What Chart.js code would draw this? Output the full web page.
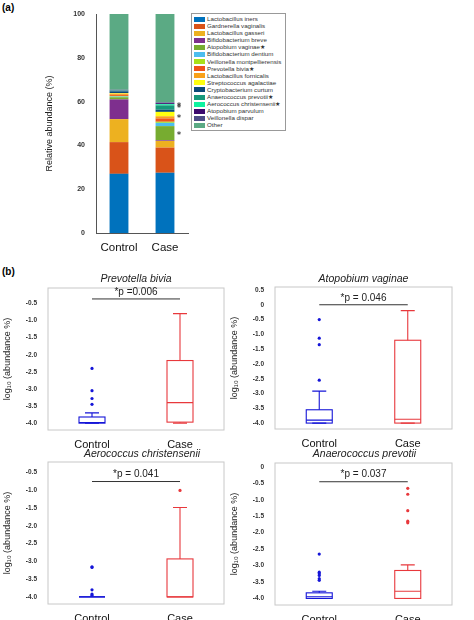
<!DOCTYPE html><html><head><meta charset="utf-8">
<script src="https://cdn.jsdelivr.net/npm/chart.js@4"></script>
<style>
body{margin:0;width:474px;height:620px;background:#fff;font-family:Arial,"Liberation Sans",sans-serif;position:relative;overflow:hidden}
.c{position:absolute}
.t{position:absolute;font-style:italic;font-size:10.5px;text-align:center;color:#222}
.lab{position:absolute;font-weight:bold;font-size:10px}
#leg{position:absolute;left:191px;top:13px;width:91px;border:1px solid #999;padding:1px 0 1px 2px;font-size:6.2px;line-height:7.1px;color:#333}
#leg span{display:inline-block;width:11px;height:5px;margin-right:2px;vertical-align:-0.5px}
</style></head><body>
<div class="lab" style="left:2px;top:2px">(a)</div>
<div class="lab" style="left:2px;top:266px">(b)</div>
<div class="c" style="left:40px;top:4px;width:150px;height:252px"><canvas id="a"></canvas></div>
<div id="leg"></div>
<div class="c" style="left:0;top:270px;width:228px;height:190px"><canvas id="b1"></canvas></div>
<div class="c" style="left:227px;top:270px;width:229px;height:190px"><canvas id="b2"></canvas></div>
<div class="c" style="left:0;top:444px;width:228px;height:176px"><canvas id="b3"></canvas></div>
<div class="c" style="left:227px;top:445px;width:229px;height:175px"><canvas id="b4"></canvas></div>
<div class="t" style="left:48px;top:272px;width:176px">Prevotella bivia</div>
<div class="t" style="left:275px;top:272px;width:177px">Atopobium vaginae</div>
<div class="t" style="left:48px;top:447px;width:188px">Aerococcus christensenii</div>
<div class="t" style="left:277px;top:447px;width:175px">Anaerococcus prevotii</div>
<script>
const groups=['Control','Case'];
const taxa=['Lactobacillus iners','Gardnerella vaginalis','Lactobacillus gasseri','Bifidobacterium breve','Atopobium vaginae★','Bifidobacterium dentium','Veillonella montpellierensis','Prevotella bivia★','Lactobacillus fornicalis','Streptococcus agalactiae','Cryptobacterium curtum','Anaerococcus prevotii★','Aerococcus christensenii★','Atopobium parvulum','Veillonella dispar','Other'];
const colors=['#0072BD','#D95319','#EDB120','#7E2F8E','#77AC30','#4DBEEE','#A8E01A','#F0521A','#F9A11B','#FFFF10','#0B4A78','#17997A','#10F2A0','#3D0A6E','#4E4C86','#5BAA84'];
const controlVals=[27,14.5,10.5,9,1,0.3,0.3,0.5,0.5,0.3,0.8,0.2,0.1,0.2,0.2,34.6];
const caseVals=[27.5,11.5,3,0.3,6.5,1.5,0.5,1.5,1,2,1,2,0.5,0.5,0.3,40.4];
const starYs=[58.5,57.5,53,45.5];

document.getElementById('leg').innerHTML=taxa.map((t,i)=>`<div><span style="background:${colors[i]}"></span>${t}</div>`).join('');

const starPlugin={id:'stars',afterDatasetsDraw(ch){const y=ch.scales.y,x=ch.scales.x,c=ch.ctx;c.save();c.fillStyle='#000';c.font='9px DejaVu Sans';c.textAlign='center';c.textBaseline='middle';starYs.forEach(v=>c.fillText('*',x.getPixelForValue(1)+14,y.getPixelForValue(v)+2));c.restore();}};
new Chart(document.getElementById('a'),{type:'bar',
data:{labels:groups,datasets:taxa.map((t,i)=>({label:t,data:[controlVals[i],caseVals[i]],backgroundColor:colors[i],barPercentage:0.82,categoryPercentage:0.5}))},
options:{animation:false,responsive:true,maintainAspectRatio:false,layout:{padding:{top:10,right:2}},
plugins:{legend:{display:false},tooltip:{enabled:false}},
scales:{x:{stacked:true,grid:{display:false},border:{color:'#555'},ticks:{color:'#111',font:{size:11.5},padding:0},afterFit(s){s.height=23}},
y:{stacked:true,min:0,max:100,ticks:{stepSize:20,color:'#333',font:{size:7,weight:'bold'}},grid:{display:false},border:{color:'#555'},
title:{display:true,text:'Relative abundance (%)',color:'#222',font:{size:9}},afterFit(s){s.width=56}}}},plugins:[starPlugin]});

// box plot data: [whiskerLow, q1, median, q3, whiskerHigh]
const pbBox=[[-4,-4,-3.98,-3.82,-3.7],[-4,-3.97,-3.4,-2.17,-0.8]];
const pbOut=[[-2.4,-3.05,-3.28,-3.45],[]];
const avBox=[[-4,-4,-3.9,-3.55,-2.92],[-4,-4,-3.87,-1.2,-0.2]];
const avOut=[[-0.5,-1.13,-1.35,-2.55],[]];
const acBox=[[-4,-4,-4,-4,-4],[-4,-4,-4,-2.93,-1.48]];
const acOut=[[-3.15,-3.17,-3.8,-3.92,-3.95],[-1.0]];
const apBox=[[-4,-4,-3.95,-3.83,-3.78],[-4,-4,-3.78,-3.15,-2.98]];
const apOut=[[-2.65,-3.2,-3.25,-3.3,-3.4,-3.45],[-0.65,-0.83,-1.33,-1.65,-1.7]];
const pvals=['*p =0.006','*p = 0.046','*p = 0.041','*p = 0.037'];
const pLineY=[-0.37,0.0,-0.75,-0.45];
const yRange=[[-4.2,-0.05],[-4.2,0.6],[-4.2,-0.2],[-4.2,0.12]];
const yTicks=[[-4,-3.5,-3,-2.5,-2,-1.5,-1,-0.5],[-4,-3.5,-3,-2.5,-2,-1.5,-1,-0.5,0,0.5],[-4,-3.5,-3,-2.5,-2,-1.5,-1,-0.5],[-4,-3.5,-3,-2.5,-2,-1.5,-1,-0.5,0]];
const boxCol=['#1515d8','#e8383c'];

function boxChart(id,box,out,k,padTop,xh){
 const plug={id:'bx',afterDatasetsDraw(ch){const c=ch.ctx,x=ch.scales.x,y=ch.scales.y,a=ch.chartArea;c.save();
  c.strokeStyle='#c8c8c8';c.lineWidth=1;c.strokeRect(a.left,a.top,a.right-a.left,a.bottom-a.top);
  box.forEach((b,i)=>{const cx=x.getPixelForValue(i+1),hw=13,cw=7;c.strokeStyle=boxCol[i];c.lineWidth=1.1;
   const P=v=>y.getPixelForValue(v);
   c.strokeRect(cx-hw,P(b[3]),2*hw,P(b[1])-P(b[3]));
   c.beginPath();c.moveTo(cx-hw,P(b[2]));c.lineTo(cx+hw,P(b[2]));
   c.moveTo(cx,P(b[3]));c.lineTo(cx,P(b[4]));c.moveTo(cx-cw,P(b[4]));c.lineTo(cx+cw,P(b[4]));
   c.moveTo(cx,P(b[1]));c.lineTo(cx,P(b[0]));c.moveTo(cx-cw,P(b[0]));c.lineTo(cx+cw,P(b[0]));c.stroke();});
  const yl=y.getPixelForValue(pLineY[k]);c.strokeStyle='#333';c.lineWidth=1;c.beginPath();c.moveTo(x.getPixelForValue(1),yl);c.lineTo(x.getPixelForValue(2),yl);c.stroke();
  c.fillStyle='#222';c.font='10px Arial';c.textAlign='center';c.textBaseline='bottom';c.fillText(pvals[k],(x.getPixelForValue(1)+x.getPixelForValue(2))/2,yl-2);
  c.restore();}};
 new Chart(document.getElementById(id),{type:'scatter',
 data:{datasets:out.map((o,i)=>({data:o.map(v=>({x:i+1,y:v})),pointRadius:1.6,backgroundColor:boxCol[i],borderWidth:0}))},
 options:{animation:false,responsive:true,maintainAspectRatio:false,layout:{padding:{top:padTop,right:4}},
 plugins:{legend:{display:false},tooltip:{enabled:false}},
 scales:{x:{type:'linear',min:0.5,max:2.5,afterBuildTicks(s){s.ticks=[{value:1},{value:2}]},ticks:{callback:v=>groups[v-1],color:'#111',font:{size:11},padding:0},grid:{display:false},border:{display:false},afterFit(s){s.height=xh}},
 y:{min:yRange[k][0],max:yRange[k][1],afterBuildTicks(s){s.ticks=yTicks[k].map(v=>({value:v}))},ticks:{color:'#333',font:{size:6.5,weight:'bold'}},grid:{display:false},border:{display:false},
 title:{display:true,text:'log\u2081\u2080 (abundance %)',color:'#222',font:{size:9},padding:2},afterFit(s){s.width=48}}}},plugins:[plug]});
}
boxChart('b1',pbBox,pbOut,0,18,30);
boxChart('b2',avBox,avOut,1,17,31);
boxChart('b3',acBox,acOut,2,18,16);
boxChart('b4',apBox,apOut,3,18,15);
</script></body></html>
